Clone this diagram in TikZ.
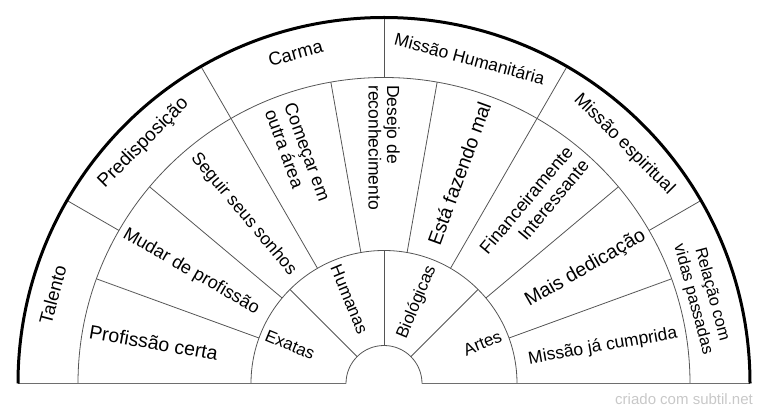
\documentclass[tikz,border=0pt]{standalone}
\usepackage{fontspec}
\setmainfont{Liberation Sans}
\begin{document}
\begin{tikzpicture}[x=1pt,y=1pt,
  divider/.style={draw={rgb,255:red,85;green,85;blue,85}, line width=0.8pt},
  rimline/.style={draw=black, line width=3pt},
  groundline/.style={draw={rgb,255:red,110;green,110;blue,110}, line width=1.2pt},
  lbl/.style={inner sep=0pt, text=black},
  fs/.style={font=\fontsize{#1}{#1*1.15}\selectfont},
]
\useasboundingbox (0,0) rectangle (768,415);
\begin{scope}[shift={(384,31.5)}]
  % arcs
  \draw[divider] (38,0) arc[start angle=0,end angle=180,radius=38];
  \draw[divider] (133,0) arc[start angle=0,end angle=180,radius=133];
  \draw[divider] (306,0) arc[start angle=0,end angle=180,radius=306];
  % radial dividers
  \foreach \a in {45,90,135} \draw[divider] (\a:38) -- (\a:133);
  \foreach \a in {20,40,...,160} \draw[divider] (\a:133) -- (\a:306);
  \foreach \a in {30,60,...,150} \draw[divider] (\a:306) -- (\a:366);
  % base line
  \draw[groundline] (-366,0) -- (-38,0);
  \draw[groundline] (38,0) -- (366,0);
  % rim
  \draw[rimline] (366,0) arc[start angle=0,end angle=180,radius=366];

  % outer ring
  \node[lbl, rotate=75, font=\fontsize{18.5}{21}\selectfont] (talento) at (165:343) {Talento};
  \node[lbl, rotate=45, font=\fontsize{19}{21}\selectfont] (predisp) at (135:340) {Predisposição};
  \node[lbl, rotate=15, font=\fontsize{18.5}{21}\selectfont] (carma) at (105:342) {Carma};
  \node[lbl, rotate=-15, font=\fontsize{17.5}{20}\selectfont] (missaoh) at (75.2:336) {Missão Humanitária};
  \node[lbl, rotate=-45, font=\fontsize{18}{20}\selectfont] (missaoe) at (44.9:339) {Missão espiritual};
  \node[lbl, rotate=-75, align=center, font=\fontsize{16.5}{19.5}\selectfont] (relacao) at (15.2:330) {Relação com\\vidas passadas};

  % middle ring
  \node[lbl, rotate=-10, font=\fontsize{19.5}{22}\selectfont] (certa) at (169.9:234) {Profissão certa};
  \node[lbl, rotate=-30, font=\fontsize{18}{20}\selectfont] (mudar) at (149.9:223) {Mudar de profissão};
  \node[lbl, rotate=-50, font=\fontsize{17.5}{20}\selectfont] (seguir) at (129.7:220) {Seguir seus sonhos};
  \node[lbl, rotate=-70, align=left, font=\fontsize{18}{20.4}\selectfont] (comecar) at (110.7:244) {Começar em\\outra área};
  \node[lbl, rotate=-90, align=left, font=\fontsize{17.5}{18.5}\selectfont] (desejo) at (90:236) {Desejo de\\reconhecimento};
  \node[lbl, rotate=70, font=\fontsize{19.5}{22}\selectfont] (mal) at (70.3:223) {Está fazendo mal};
  \node[lbl, rotate=50, align=right, font=\fontsize{18}{21}\selectfont] (financ) at (49.7:232) {Financeiramente\\Interessante};
  \node[lbl, rotate=30, font=\fontsize{19.5}{22}\selectfont] (dedic) at (29.7:232) {Mais dedicação};
  \node[lbl, rotate=10, font=\fontsize{17.5}{20}\selectfont] (cumprida) at (9.6:222) {Missão já cumprida};

  % inner ring
  \node[lbl, rotate=-22.5, font=\fontsize{17}{20}\selectfont] (exatas) at (157.7:101.6) {Exatas};
  \node[lbl, rotate=-67.5, font=\fontsize{17}{20}\selectfont] (humanas) at (112.4:91) {Humanas};
  \node[lbl, rotate=67.5, font=\fontsize{17}{20}\selectfont] (bio) at (68:87.5) {Biológicas};
  \node[lbl, rotate=22.5, font=\fontsize{17}{20}\selectfont] (artes) at (22.2:106.4) {Artes};
\end{scope}
\node[inner sep=0pt, anchor=east, text={rgb,255:red,200;green,200;blue,200}, font=\fontsize{15}{17}\selectfont] (credit) at (753,16) {criado com subtil.net};
\end{tikzpicture}
\end{document}
